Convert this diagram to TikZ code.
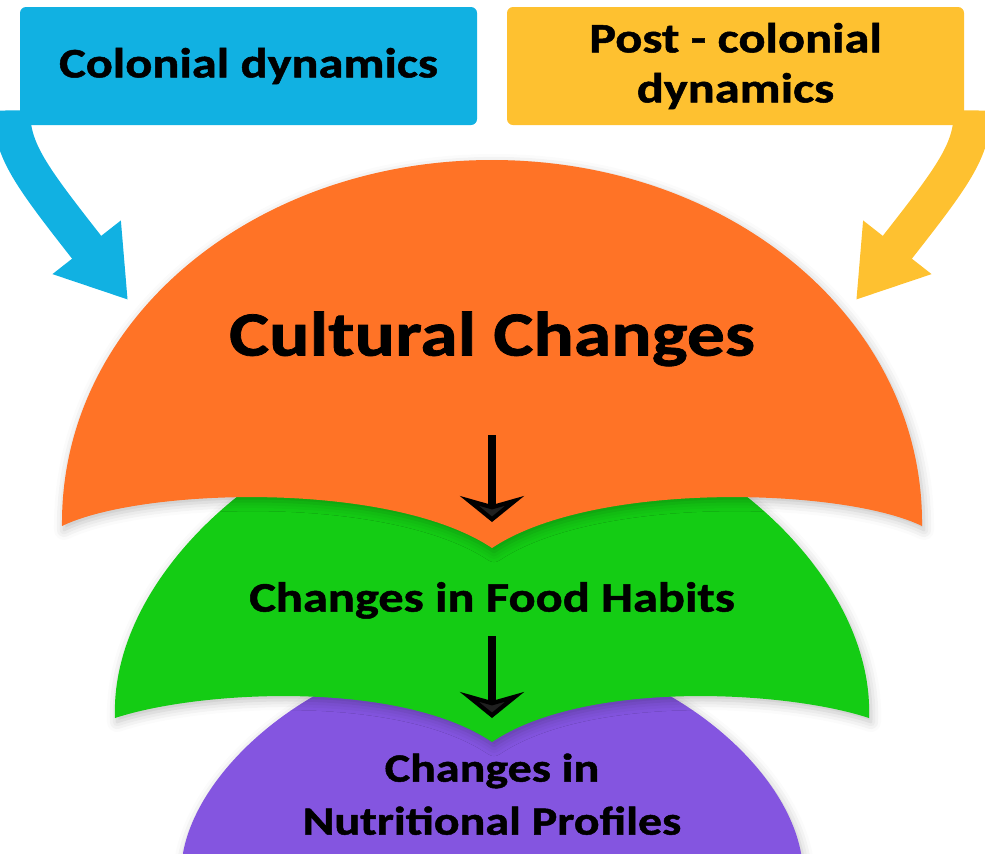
\documentclass[tikz,border=0pt]{standalone}
\usepackage{fontspec}
\newfontfamily\diagfont[FakeStretch=1.2, FakeBold=1.2]{Carlito}
\usepackage{tikz}
\usetikzlibrary{arrows.meta, backgrounds, shadows.blur}

\definecolor{colblue}{HTML}{11B1E2}
\definecolor{colyellow}{HTML}{FEC130}
\definecolor{colorange}{HTML}{FF7326}
\definecolor{colgreen}{HTML}{14CC14}
\definecolor{colpurple}{HTML}{8455E0}

\tikzset{
  catbox/.style={minimum width=228.5pt, minimum height=59pt, rounded corners=3pt,
    inner sep=0pt, align=center, font=\diagfont\bfseries\fontsize{21pt}{25pt}\selectfont},
  dome/.style={blur shadow={shadow xshift=1pt, shadow yshift=-2pt,
    shadow blur radius=5pt, shadow opacity=25}},
  caption/.style={inner sep=0pt, text depth=0pt, anchor=south, align=center},
  fatarrow/.style={line width=18.5pt, -{Triangle[length=33.5pt, width=41pt]}},
  downarrow/.style={line width=4pt, -{Stealth[length=13pt, width=32pt, inset=4.5pt]}},
}

\begin{document}
\begin{tikzpicture}[x=0.5pt, y=-0.5pt]
            \useasboundingbox (0,0) rectangle (985,853);

            % the three domes, back to front
            \fill[colpurple, dome] (183,853) .. controls (200,760) and (330,650) .. (492,645)
                .. controls (654,650) and (784,760) .. (801,853) -- (801,870) -- (183,870) -- cycle;
            \fill[colgreen, dome] (115,718) .. controls (112,640) and (160,560) .. (233,500)
                -- (270,470) -- (714,470) -- (751,500)
                .. controls (824,560) and (872,640) .. (869,718)
                .. controls (784,690) and (584,680) .. (492,742)
                .. controls (400,680) and (200,690) .. (115,718) -- cycle;
            \fill[colorange, dome] (62,526) .. controls (60,320) and (253,160) .. (492,160)
                .. controls (731,160) and (924,320) .. (922,526)
                .. controls (844,488) and (594,480) .. (492,548)
                .. controls (390,480) and (140,488) .. (62,526) -- cycle;

            \coordinate (notchA) at (492,548);
            \coordinate (notchB) at (492,742);
            \coordinate (cTip) at (128,300);
            \coordinate (pTip) at (856,300);

            \node[caption, font=\diagfont\bfseries\fontsize{31.5pt}{36pt}\selectfont] (cultural) at (492,356) {Cultural Changes};
            \node[caption, font=\diagfont\bfseries\fontsize{21pt}{25pt}\selectfont] (food) at (492,612) {Changes in Food Habits};
            \node[caption, font=\diagfont\bfseries\fontsize{20pt}{26.5pt}\selectfont] (nutrition) at (492,835) {Changes in\\Nutritional Profiles};

            \node[catbox, fill=colblue] (colonial) at (248.5,66) {Colonial dynamics};
            \node[catbox, fill=colyellow] (postcol) at (735.5,66) {Post - colonial\\dynamics};

            \begin{scope}[on background layer]
                \draw[fatarrow, colblue] ([shift={(-8,-15)}]colonial.south west)
                    .. controls +(0,40) and +(-98,-125) .. (cTip);
                \draw[fatarrow, colyellow] ([shift={(8,-15)}]postcol.south east)
                    .. controls +(0,40) and +(98,-125) .. (pTip);
            \end{scope}

            \draw[downarrow, shorten <=39.5pt, shorten >=13pt] (cultural) -- (notchA);
            \draw[downarrow, shorten <=12pt, shorten >=12pt] (food) -- (notchB);
        \end{tikzpicture}
\end{document}
